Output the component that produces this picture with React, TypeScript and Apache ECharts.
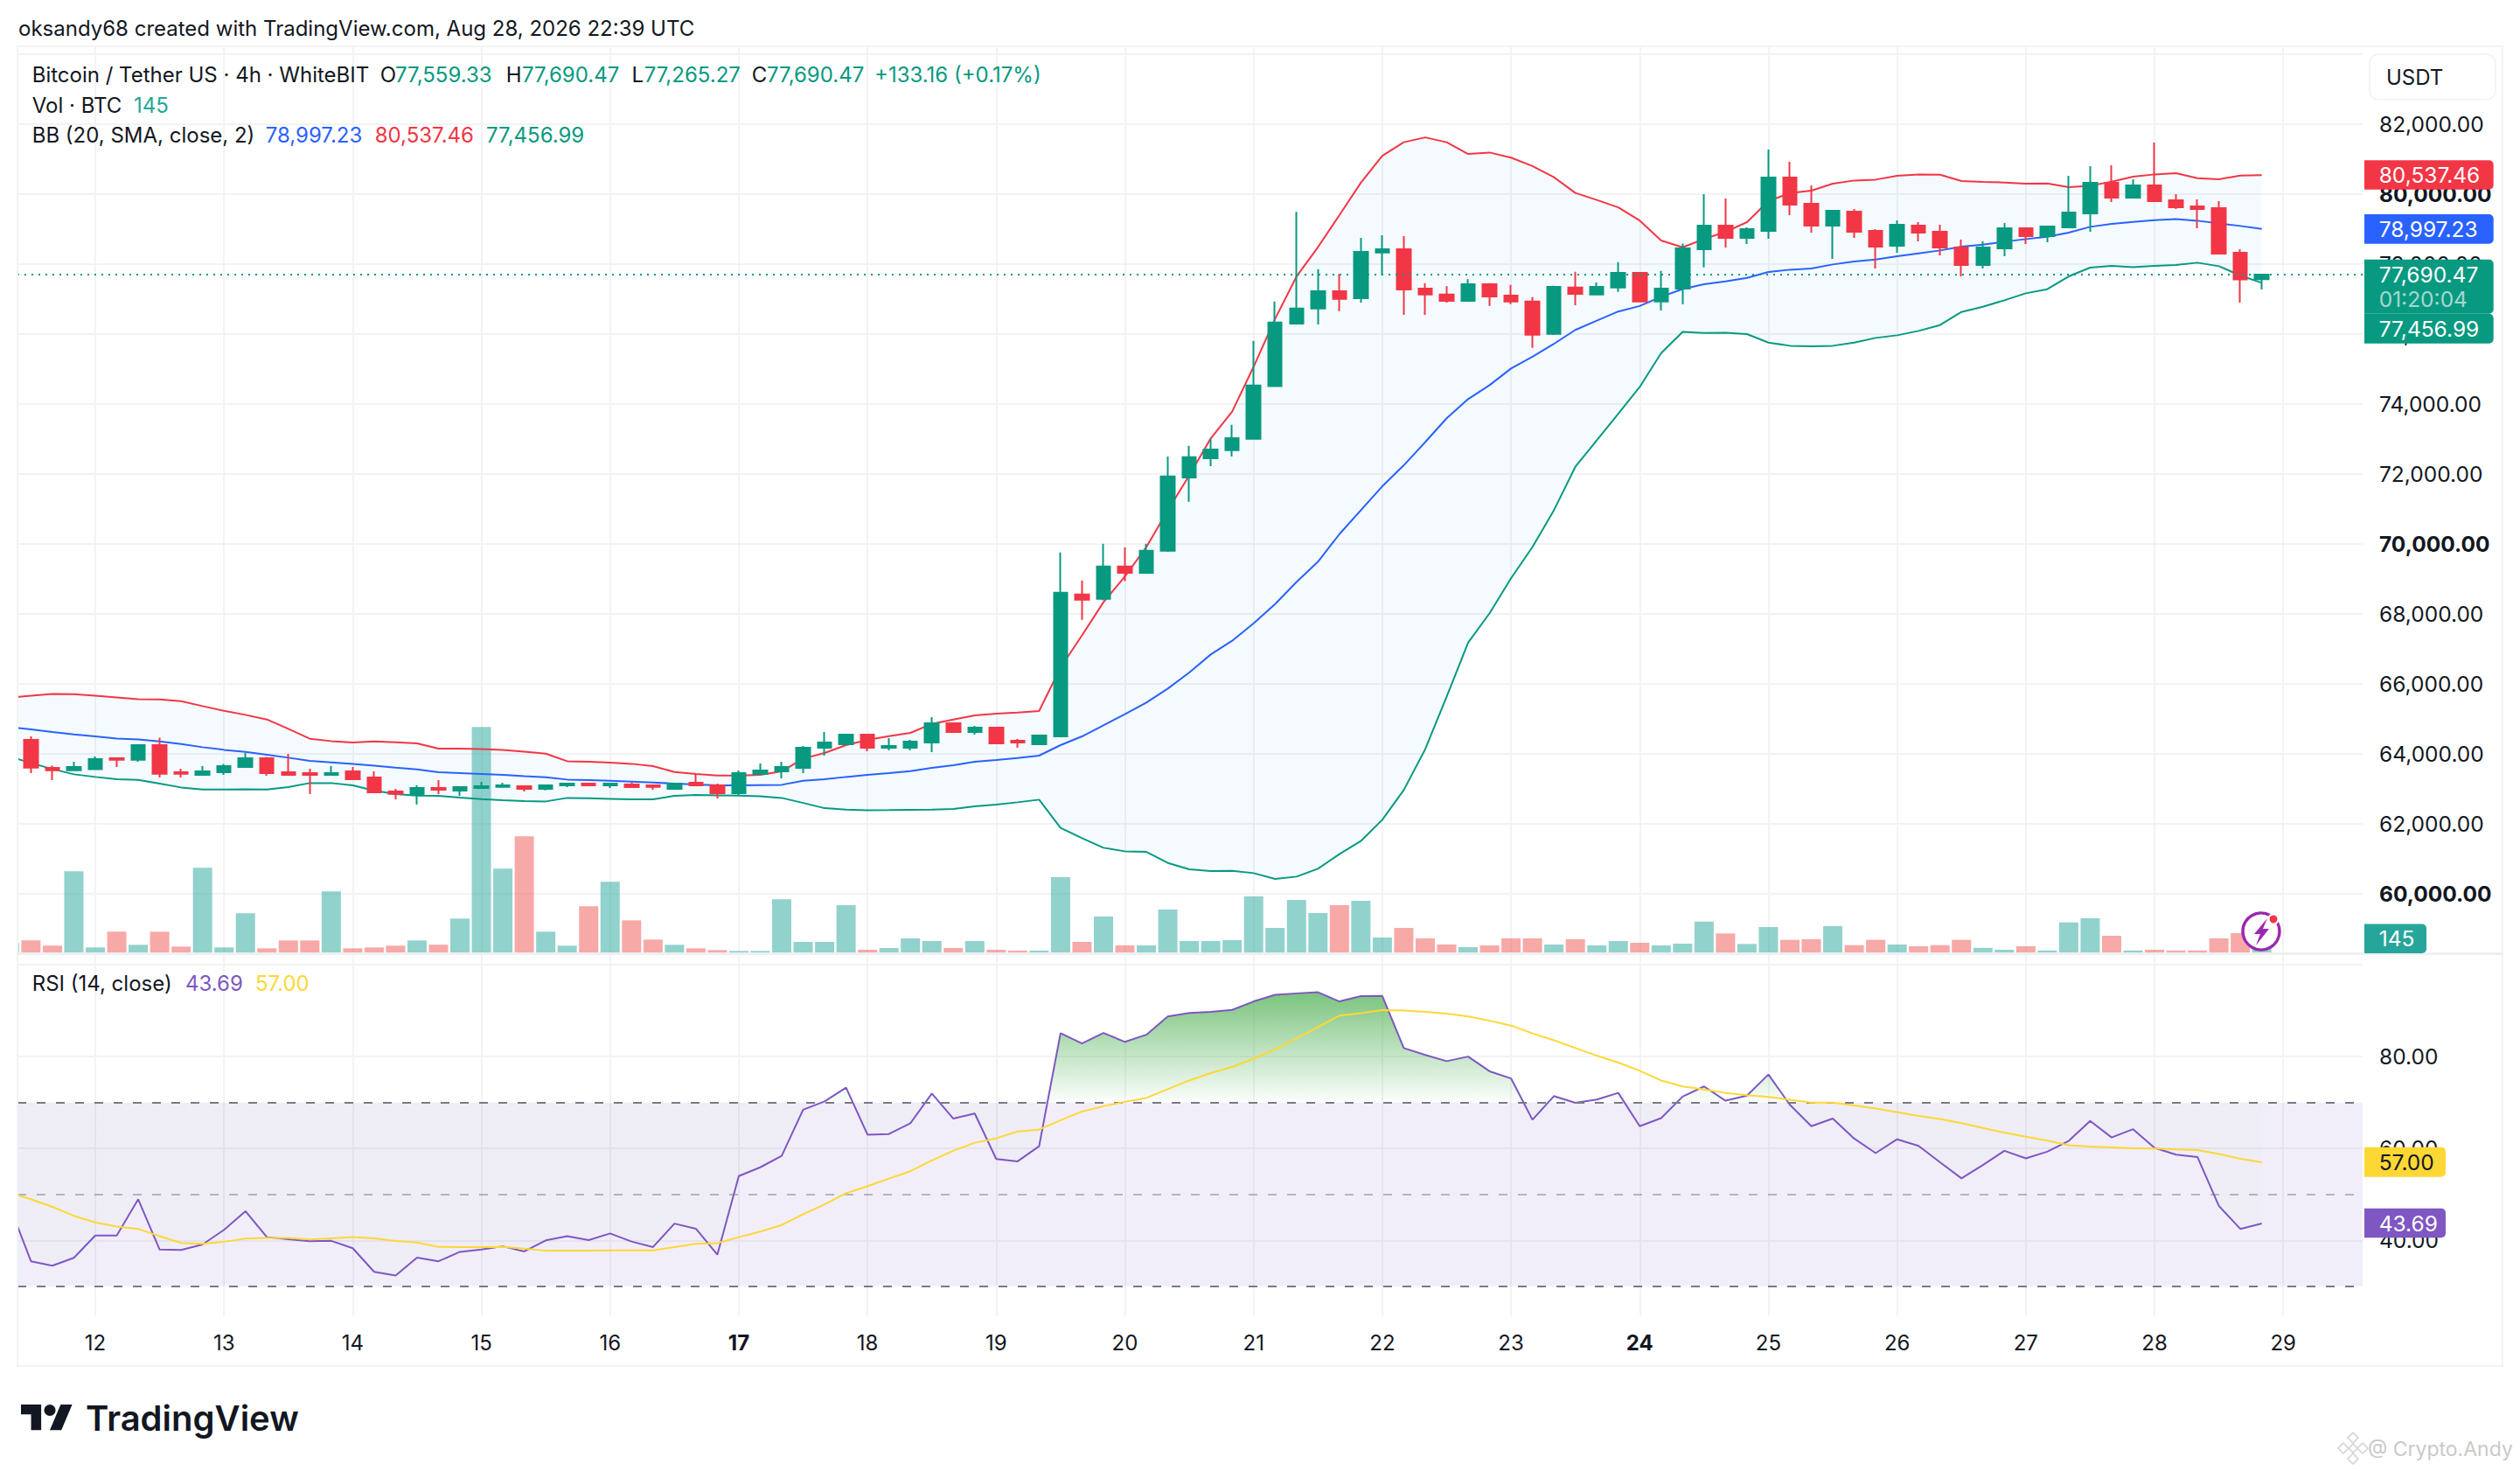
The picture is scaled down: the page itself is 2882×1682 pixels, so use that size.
import React, { useEffect, useRef } from "react";
import * as echarts from "echarts";

const FONT = "Inter";
const UP = "#089981";
const DOWN = "#f23645";
const BLUE = "#2962ff";
const PURPLE = "#7e57c2";
const YELLOW = "#fdd835";
const TEXT = "#131722";
const GRID = "#f2f3f4";

const dayTicks = [12, 13, 14, 15, 16, 17, 18, 19, 20, 21, 22, 23, 24, 25, 26, 27, 28, 29];
const boldDays = [17, 24];
const priceTicks = [60000, 62000, 64000, 66000, 68000, 70000, 72000, 74000, 76000, 78000, 80000, 82000];
const priceLines = [...priceTicks, 84000];
const boldPrices = [60000, 70000, 80000];
const rsiLabels = [40, 60, 80];
const rsiLines = [40, 60, 80, 100];

const opens = [64392,63592,63525,63558,63867,63825,64242,63467,63392,63467,63617,63867,63467,63442,63392,63492,63317,62917,62842,63017,62942,63017,63050,63067,62992,63092,63142,63092,63117,63092,62992,63167,63092,62867,63417,63492,63592,64167,64267,64542,64167,64167,64317,64867,64617,64742,64367,64267,64492,68548,68422,69348,69169,69800,71894,72441,72672,72998,74503,76291,76722,77217,77017,78321,78416,77290,77122,76943,77417,77091,76922,75997,77322,77122,77322,77743,76922,77292,78417,79092,78742,78942,80467,79717,79092,79492,78942,78517,79092,78917,78467,77967,78442,79017,78792,79042,79442,80317,79892,80242,79817,79642,79592,78317,77559.33];
const closes = [63600,63525,63617,63842,63825,64242,63425,63425,63492,63642,63867,63442,63392,63392,63442,63267,62892,62850,63017,62967,63042,63067,63092,62992,63092,63142,63092,63142,63042,63050,63142,63092,62867,63442,63517,63617,64167,64317,64542,64167,64217,64342,64867,64617,64742,64292,64317,64517,68600,68401,69348,69169,69800,71925,72472,72693,73019,74524,76323,76722,77217,76996,78342,78416,77269,77122,76943,77417,77069,76922,75975,77343,77143,77343,77743,76922,77290,78442,79092,78742,78992,80467,79692,79092,79517,78917,78492,79117,78892,78467,77967,78467,79017,78792,79067,79467,80317,79892,80242,79792,79617,79567,78292,77557,77690.47];
const highs = [64492,63658,63767,63917,63883,64242,64458,63567,63642,63708,64017,63908,63992,63567,63642,63617,63492,62992,63092,63242,63067,63192,63167,63092,63117,63142,63167,63142,63167,63092,63142,63417,63142,63517,63717,63767,64217,64617,64567,64567,64442,64392,65042,64892,64792,64742,64417,64542,69747,68948,70000,69895,70000,72493,72798,72998,73398,75797,76922,79489,77848,77711,78742,78816,78795,77448,77364,77564,77448,77396,77048,77375,77774,77470,78048,77743,77796,78583,79992,79867,79042,81267,80917,80242,79517,79567,78992,79242,79192,79117,78692,78642,79167,79017,79092,80517,80792,80817,80417,81467,79992,79842,79792,78417,77690.47];
const lows = [63442,63242,63525,63542,63617,63767,63317,63317,63367,63392,63592,63367,63392,62842,63367,63267,62892,62692,62542,62842,62792,62992,63042,62917,62950,63042,63075,63017,63042,62967,62992,63092,62717,62817,63392,63292,63442,63942,64267,64067,64092,64092,64042,64617,64542,64292,64167,64242,64467,67822,68380,68927,69169,69769,71200,72220,72493,72998,74503,76260,76270,76649,76891,77669,76543,76543,76891,76943,76796,76849,75597,75965,76817,77122,77196,76901,76670,76842,77900,78467,78567,78717,79392,78892,78142,78742,77867,78317,78642,78242,77642,77867,78217,78567,78617,79042,78917,79767,79892,79767,79567,79017,78292,76892,77265.27];

const bbUpper = [65600,65658,65708,65700,65658,65608,65558,65550,65500,65358,65225,65108,64975,64708,64425,64358,64317,64350,64325,64292,64142,64142,64133,64108,64058,64000,63783,63767,63742,63708,63642,63475,63417,63375,63375,63392,63492,63858,64017,64242,64392,64500,64592,64850,64975,65092,65142,65175,65217,66460,67380,68327,69064,69905,70957,71957,73009,73777,75060,76428,77638,78479,79394,80320,81088,81477,81614,81477,81141,81183,81036,80794,80478,80026,79826,79615,79237,78668,78475,78708,78917,79192,79792,80025,80092,80292,80383,80408,80517,80558,80550,80367,80342,80325,80292,80300,80192,80233,80350,80492,80558,80592,80450,80417,80525,80537.46];
const bbBasis = [64758,64692,64617,64550,64492,64433,64408,64350,64275,64183,64108,64050,63967,63883,63792,63750,63708,63658,63600,63550,63467,63442,63417,63392,63358,63325,63258,63242,63225,63200,63175,63142,63117,63092,63092,63100,63108,63225,63267,63333,63392,63442,63500,63592,63667,63767,63817,63875,63942,64242,64492,64808,65125,65458,65858,66317,66833,67225,67725,68275,68906,69485,70274,70957,71641,72241,72904,73587,74134,74534,75008,75344,75712,76112,76375,76638,76796,77059,77280,77417,77500,77600,77767,77833,77867,77983,78067,78125,78217,78300,78383,78492,78550,78633,78708,78775,78892,79058,79142,79200,79250,79283,79233,79158,79083,78997.23];
const bbLower = [63917,63733,63558,63408,63333,63267,63250,63142,63033,62975,62975,62983,62975,63042,63158,63158,63092,62942,62842,62800,62792,62742,62700,62667,62642,62633,62733,62725,62708,62692,62692,62792,62817,62808,62800,62783,62733,62590,62440,62400,62380,62385,62395,62400,62420,62490,62542,62608,62683,61875,61583,61308,61208,61192,60875,60692,60642,60650,60583,60417,60483,60708,61125,61500,62108,62958,64125,65625,67170,68012,69011,69905,70957,72199,72956,73714,74482,75449,76055,76025,76033,75992,75750,75658,75642,75658,75750,75883,75958,76083,76250,76625,76775,76958,77158,77275,77642,77892,77942,77908,77942,77967,78033,77933,77667,77456.99];

const volumes = [320,410,230,2780,170,710,260,710,200,2900,170,1340,140,410,410,2090,140,170,230,410,260,1160,7730,2870,3980,710,230,1580,2420,1100,440,260,140,80,50,50,1820,360,360,1620,90,150,480,390,150,390,90,60,60,2580,360,1230,240,240,1470,390,390,420,1920,840,1800,1350,1620,1770,510,840,480,270,180,240,480,480,270,450,240,390,330,240,300,1056,650,290,870,430,455,900,250,430,270,210,250,430,155,90,210,65,1030,1170,570,65,90,65,65,480,660,145];

const rsiValues = [47.6,35.45,34.5,36.2,41.05,41.05,48.95,38,37.9,39.1,42.3,46.35,40.7,40.25,39.8,39.9,38.3,33.15,32.35,36.25,35.45,37.5,38,38.7,37.6,40,40.9,40.05,41.5,39.75,38.55,43.65,42.55,36.9,54,55.9,58.4,68.45,70.25,73.25,63,63.15,65.5,71.95,66.5,67.6,57.7,57.2,60.5,85.1,82.85,85.15,83.2,84.75,88.75,89.5,89.75,90.15,92,93.45,93.75,94,92,93.15,93.2,81.85,80.35,79,80,76.8,75.25,66.25,71.4,69.95,70.65,72.1,64.85,66.6,71.3,73.5,70.4,71.5,76.1,69.5,64.85,66.5,62.15,59,62,60.55,57,53.5,56.4,59.5,57.85,59.3,61.65,66,62.4,64.2,60.15,58.65,58.15,47.5,42.5,43.69];
const rsiMa = [50.4,48.95,47.3,45.35,43.9,43,42.5,40.9,39.45,39.25,39.7,40.4,40.55,40.55,40.2,40.45,40.7,40.45,39.85,39.55,38.6,38.55,38.55,38.6,38.2,37.75,37.75,37.75,37.8,37.8,37.8,38.55,39.25,39.4,40.7,41.9,43.35,45.7,47.85,50.25,51.8,53.45,55.05,57.4,59.5,61.25,62.2,63.7,64.1,66.15,68.05,69.2,70.15,71,72.9,74.8,76.4,77.75,79.55,81.55,84,86.4,88.9,89.45,90.1,90,89.75,89.35,88.75,87.8,86.75,85.05,83.55,81.85,80.2,78.7,76.9,74.8,73.5,72.85,72.1,71.6,71.2,70.6,70,70,69.35,68.7,67.9,67.1,66.4,65.5,64.45,63.45,62.55,61.7,60.7,60.4,60.25,60.05,60,59.8,59.65,58.8,57.75,57];

const dayOf = (k: number) => 11 + 1 / 3 + k / 6;
const X_MIN = 11.39538;
const X_MAX = 29.6168;
const Y_MIN = 58292.5;
const Y_MAX = 84217.5;
const TAG_FONT = 24.5;
const fmt = (v: number) => v.toLocaleString("en-US", { minimumFractionDigits: 2, maximumFractionDigits: 2 });

echarts.graphic.registerShape(
  "tvLogo",
  echarts.graphic.extendPath("M14 22H7V11H0V4h14v18zM28 22h-8l7.5-18h8L28 22zM24 8a4 4 0 1 1-8 0 4 4 0 0 1 8 0z", {}) as any
);

function txt(x: number, y: number, text: string, fill: string, size = 24, weight = 400) {
  return {
    type: "text", x, y, z: 110, silent: true,
    style: { text, fill, fontFamily: FONT, fontSize: size, fontWeight: weight, verticalAlign: "middle", align: "left" },
  };
}
function tag(y: number, h: number, w: number, color: string) {
  return { type: "rect", z: 100, silent: true, shape: { x: 2704, y, width: w, height: h, r: [0, 5, 5, 0] }, style: { fill: color } };
}
function hline(x1: number, x2: number, y: number, w = 2, color = GRID) {
  return { type: "line", z: 50, silent: true, shape: { x1, y1: y, x2, y2: y }, style: { stroke: color, lineWidth: w } };
}

function buildOption(): any {
  const xs = volumes.map((_, k) => dayOf(k));
  const pair = (arr: number[]) => arr.map((v, k) => [dayOf(k), v]);
  const candles = opens.map((o, i) => [dayOf(i + 1), o, closes[i], lows[i], highs[i]]);
  const volData = volumes.map((v, k) => {
    const up = k === 0 ? true : closes[k - 1] >= opens[k - 1];
    return { value: [xs[k], v], itemStyle: { color: up ? "rgba(38,166,154,0.5)" : "rgba(239,83,80,0.5)" } };
  });
  const bandData = bbUpper.map((v, k) => [dayOf(k), v, bbLower[k]]);

  const xBase = { type: "value", min: X_MIN, max: X_MAX, axisLine: { show: false }, axisLabel: { show: false }, splitLine: { show: false }, axisTick: { show: false } };
  const splitX = { show: true, lineStyle: { color: GRID, width: 2 } };

  const graphic: any[] = [
    txt(21, 32, "oksandy68 created with TradingView.com, Aug 28, 2026 22:39 UTC", TEXT),
    txt(36.7, 85, "Bitcoin / Tether US · 4h · WhiteBIT", TEXT),
    txt(434.8, 85, "O", TEXT), txt(452, 85, "77,559.33", UP),
    txt(578.7, 85, "H", TEXT), txt(597, 85, "77,690.47", UP),
    txt(722.6, 85, "L", TEXT), txt(736.7, 85, "77,265.27", UP),
    txt(859.8, 85, "C", TEXT), txt(877, 85, "77,690.47", UP),
    txt(1000, 85, "+133.16 (+0.17%)", UP),
    txt(36.7, 120, "Vol · BTC", TEXT), txt(153, 120, "145", "#26a69a"),
    txt(36.7, 154, "BB (20, SMA, close, 2)", TEXT),
    txt(303.7, 154, "78,997.23", BLUE), txt(428.7, 154, "80,537.46", DOWN), txt(556, 154, "77,456.99", UP),
    txt(36.7, 1124, "RSI (14, close)", TEXT), txt(212, 1124, "43.69", PURPLE), txt(292, 1124, "57.00", YELLOW),

    // mask of the clipped first volume bar, frame
    { type: "rect", z: 45, silent: true, shape: { x: 0, y: 1000, width: 19, height: 95 }, style: { fill: "#fff" } },
    { type: "rect", z: 50, silent: true, shape: { x: 20, y: 53, width: 2842, height: 1508.7 }, style: { fill: "none", stroke: GRID, lineWidth: 2 } },
    hline(20, 2862, 1090.5, 3, "#eeeff0"),

    // scale button
    { type: "rect", z: 100, silent: true, shape: { x: 2710, y: 62, width: 144, height: 52, r: 10 }, style: { fill: "#fff", stroke: "#f0f1f3", lineWidth: 1.5 } },
    txt(2729, 88, "USDT", TEXT, 24),

    // price tags
    tag(183.3, 33.4, 147.7, DOWN), txt(2720.7, 200, fmt(bbUpper[105]), "#fff", TAG_FONT),
    tag(245, 33.7, 147.7, BLUE), txt(2720.7, 262, fmt(bbBasis[105]), "#fff", TAG_FONT),
    tag(296.7, 62, 147.7, UP), txt(2720.7, 313.5, fmt(closes[104]), "#fff", TAG_FONT), txt(2720.7, 342, "01:20:04", "rgba(255,255,255,0.65)", TAG_FONT),
    tag(358.7, 34, 147.7, UP), txt(2720.7, 375.5, fmt(bbLower[105]), "#fff", TAG_FONT),
    tag(1056.5, 33.5, 71, "#26a69a"), txt(2720.7, 1073, String(volumes[105]), "#fff", TAG_FONT),
    tag(1311.7, 34, 93, YELLOW), txt(2720.7, 1328.5, rsiMa[105].toFixed(2), TEXT, TAG_FONT),
    tag(1381.7, 33.5, 93, PURPLE), txt(2720.7, 1398.5, rsiValues[105].toFixed(2), "#fff", TAG_FONT),

    // lightning badge
    { type: "circle", z: 120, silent: true, shape: { cx: 2586, cy: 1065, r: 21 }, style: { fill: "#fff", stroke: "#9c27b0", lineWidth: 3.5 } },
    { type: "polygon", z: 121, silent: true, shape: { points: [[2593, 1050], [2578, 1068], [2585, 1068], [2580, 1081], [2595, 1062], [2588, 1062]] }, style: { fill: "#9c27b0" } },
    { type: "circle", z: 122, silent: true, shape: { cx: 2600, cy: 1051, r: 5.5 }, style: { fill: "#f23645", stroke: "#fff", lineWidth: 2 } },

    // logo
    { type: "tvLogo", z: 100, silent: true, x: 24, y: 1599.5, scaleX: 1.65, scaleY: 1.62, style: { fill: "#131722" } },
    txt(98, 1621, "TradingView", "#131722", 40, 600),

    // watermark
    ...[[2691, 1644, 6], [2680, 1656, 6], [2702, 1656, 6], [2691, 1668, 6], [2691, 1656, 5]].map(([cx, cy, r]) => ({
      type: "polygon", z: 100, silent: true,
      shape: { points: [[cx, cy - r], [cx + r, cy], [cx, cy + r], [cx - r, cy]] },
      style: { fill: "none", stroke: "#d2d2d2", lineWidth: 1.5 },
    })),
    txt(2708, 1657, "@ Crypto.Andy", "#c9c9c9", 23),
  ];

  return {
    animation: false,
    backgroundColor: "#ffffff",
    grid: [
      { left: 20, top: 53, width: 2682, height: 1037 },
      { left: 20, top: 820, width: 2682, height: 269 },
      { left: 20, top: 1092, width: 2682, height: 413 },
    ],
    xAxis: [
      { ...xBase, gridIndex: 0, axisTick: { show: false, customValues: dayTicks }, splitLine: splitX },
      { ...xBase, gridIndex: 1 },
      {
        ...xBase, gridIndex: 2,
        axisTick: { show: false, customValues: dayTicks }, splitLine: splitX,
        axisLabel: {
          show: true, customValues: dayTicks, margin: 18, color: TEXT, fontFamily: FONT, fontSize: 24, hideOverlap: false,
          formatter: (v: number) => (boldDays.includes(v) ? `{b|${v}}` : String(v)),
          rich: { b: { fontFamily: FONT, fontSize: 24, fontWeight: 700, color: TEXT } },
        },
      },
    ],
    yAxis: [
      {
        type: "value", gridIndex: 0, position: "right", min: Y_MIN, max: Y_MAX, scale: true,
        axisLine: { show: false }, axisTick: { show: false, customValues: priceLines },
        splitLine: { show: true, lineStyle: { color: GRID, width: 2 } },
        axisLabel: {
          customValues: priceTicks, color: TEXT, fontFamily: FONT, fontSize: TAG_FONT, margin: 19, align: "left",
          formatter: (v: number) => (boldPrices.includes(v) ? `{b|${fmt(v)}}` : fmt(v)),
          rich: { b: { fontFamily: FONT, fontSize: TAG_FONT, fontWeight: 700, color: TEXT } },
        },
      },
      { type: "value", gridIndex: 1, min: 0, max: 8070, show: false, splitLine: { show: false } },
      {
        type: "value", gridIndex: 2, position: "right", min: 23.5, max: 102.1,
        axisLine: { show: false }, axisTick: { show: false, customValues: rsiLines },
        splitLine: { show: true, lineStyle: { color: GRID, width: 2 } },
        axisLabel: {
          customValues: rsiLabels, color: TEXT, fontFamily: FONT, fontSize: TAG_FONT, margin: 19, align: "left",
          formatter: (v: number) => v.toFixed(2),
        },
      },
    ],
    series: [
      {
        name: "Volume", type: "bar", xAxisIndex: 1, yAxisIndex: 1, data: volData, barWidth: 22, z: 1, silent: true,
      },
      {
        name: "BB fill", type: "custom", xAxisIndex: 0, yAxisIndex: 0, data: bandData, z: 2, silent: true, clip: true,
        encode: { x: 0, y: [1, 2] },
        renderItem: (params: any, api: any) => {
          if (params.dataIndex !== 0) return null;
          const top = bandData.map((d) => api.coord([d[0], d[1]]));
          const bottom = bandData.map((d) => api.coord([d[0], d[2]])).reverse();
          return {
            type: "polygon", silent: true,
            shape: { points: [...top, ...bottom] },
            style: { fill: "rgba(33,150,243,0.05)" },
          };
        },
      },
      { name: "BB upper", type: "line", xAxisIndex: 0, yAxisIndex: 0, data: pair(bbUpper), symbol: "none", lineStyle: { color: DOWN, width: 2 }, z: 3, silent: true },
      { name: "BB basis", type: "line", xAxisIndex: 0, yAxisIndex: 0, data: pair(bbBasis), symbol: "none", lineStyle: { color: BLUE, width: 2 }, z: 3, silent: true },
      { name: "BB lower", type: "line", xAxisIndex: 0, yAxisIndex: 0, data: pair(bbLower), symbol: "none", lineStyle: { color: UP, width: 2 }, z: 3, silent: true },
      {
        name: "BTCUSDT", type: "candlestick", xAxisIndex: 0, yAxisIndex: 0, data: candles, barWidth: 16, z: 4, silent: true,
        itemStyle: { color: UP, color0: DOWN, borderColor: UP, borderColor0: DOWN, borderWidth: 2 },
        markLine: {
          silent: true, symbol: "none", label: { show: false },
          lineStyle: { color: UP, width: 2, type: [2, 6], opacity: 1 },
          data: [{ yAxis: closes[104] }],
        },
      },
      {
        name: "RSI", type: "line", xAxisIndex: 2, yAxisIndex: 2, data: pair(rsiValues), symbol: "none", z: 4, silent: true,
        lineStyle: { color: PURPLE, width: 2 },
        areaStyle: {
          origin: 70, opacity: 1,
          color: new echarts.graphic.LinearGradient(0, 1133, 0, 1260, [
            { offset: 0, color: "rgba(76,175,80,0.75)" },
            { offset: 1, color: "rgba(76,175,80,0.02)" },
          ], true),
        },
        markArea: {
          silent: true, itemStyle: { color: "rgba(126,87,194,0.1)" }, label: { show: false },
          data: [[{ yAxis: 70 }, { yAxis: 30 }]],
        },
        markLine: {
          silent: true, symbol: "none", label: { show: false },
          data: [
            { yAxis: 70, lineStyle: { color: "#787b86", width: 2, type: [10, 12], opacity: 1 } },
            { yAxis: 50, lineStyle: { color: "rgba(120,123,134,0.5)", width: 2, type: [10, 12], opacity: 1 } },
            { yAxis: 30, lineStyle: { color: "#787b86", width: 2, type: [10, 12], opacity: 1 } },
          ],
        },
      },
      { name: "RSI MA", type: "line", xAxisIndex: 2, yAxisIndex: 2, data: pair(rsiMa), symbol: "none", lineStyle: { color: YELLOW, width: 2 }, z: 5, silent: true },
    ],
    graphic: { elements: graphic },
  };
}

export default function App() {
  const ref = useRef<HTMLDivElement>(null);
  useEffect(() => {
    const chart = echarts.init(ref.current!, undefined, { renderer: "svg" });
    chart.setOption(buildOption());
    return () => chart.dispose();
  }, []);
  return <div ref={ref} style={{ position: "fixed", left: 0, top: 0, width: 2882, height: 1682, background: "#fff" }} />;
}
